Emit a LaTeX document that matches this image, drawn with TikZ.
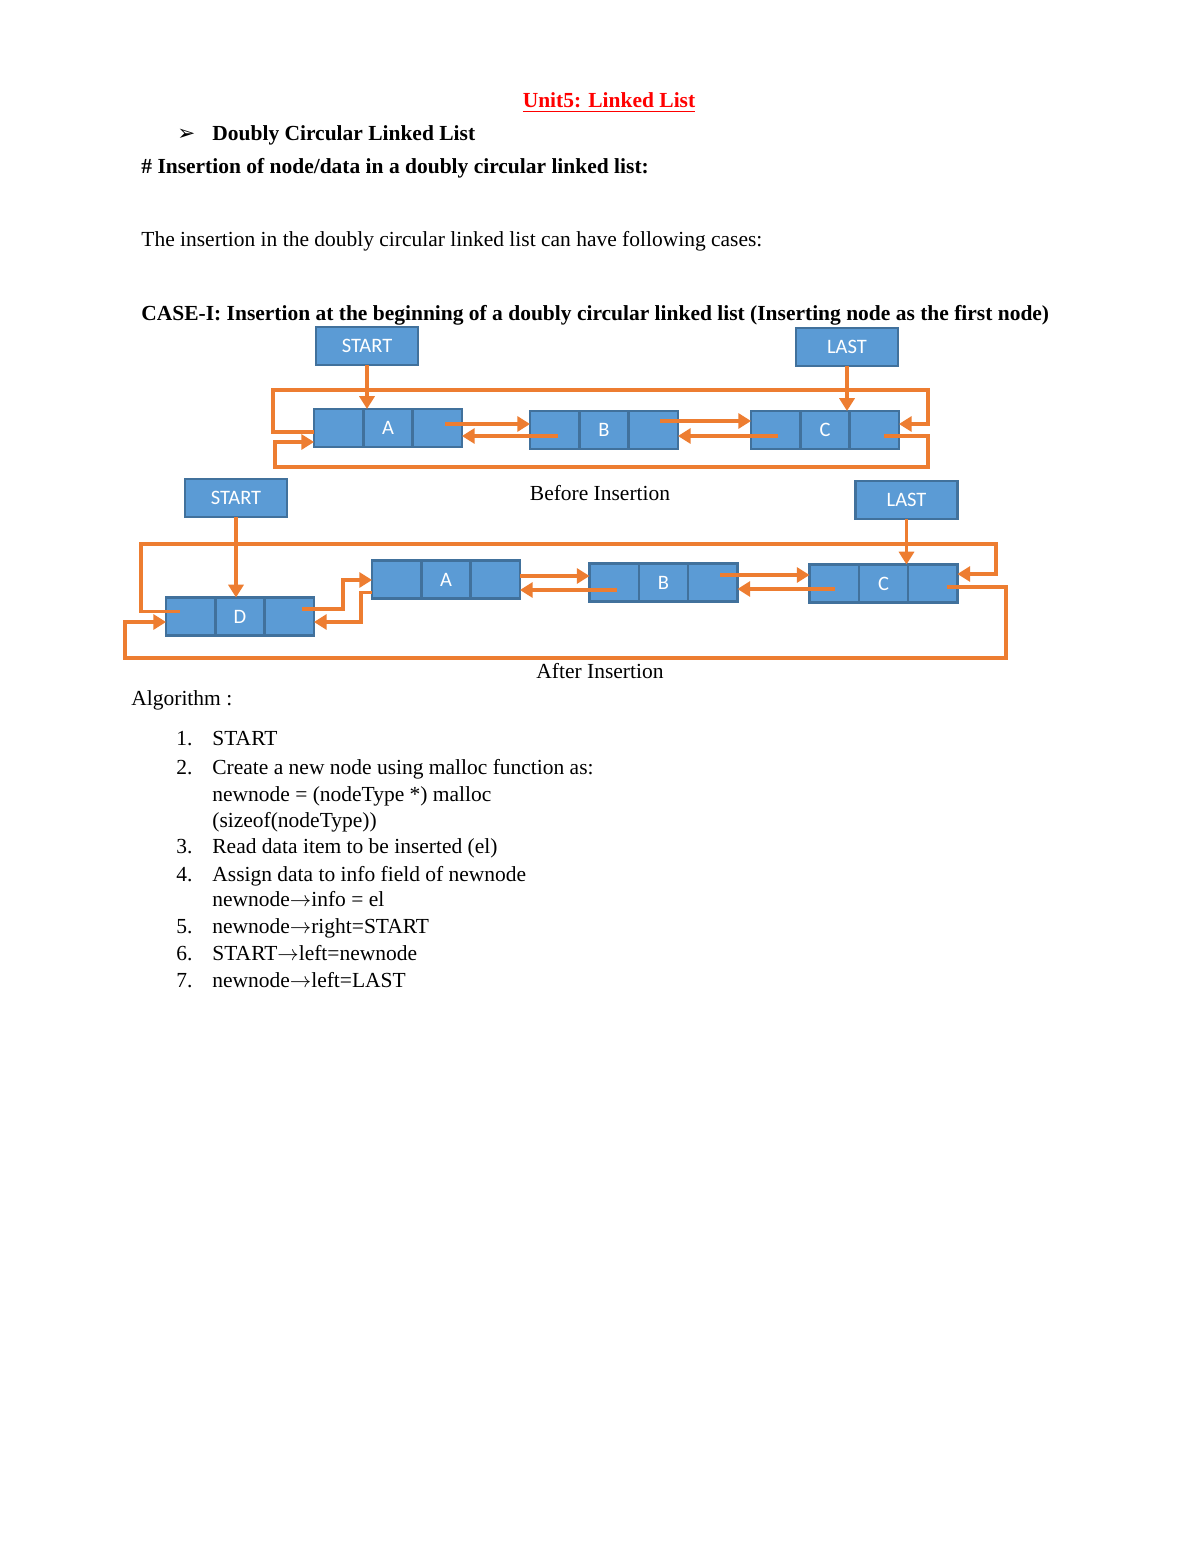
\documentclass[tikz,border=0pt]{standalone}
\usepackage{fontspec}
\usepackage{tikz}
\usetikzlibrary{positioning,calc,arrows.meta}
\setmainfont{Liberation Serif}
\newfontfamily\boxfont{Carlito}
\newfontfamily\symfont{DejaVu Sans}
\definecolor{LLFill}{HTML}{5B9BD5}
\definecolor{LLEdge}{HTML}{41719C}
\definecolor{LLOrange}{HTML}{ED7D31}
\definecolor{LLRed}{HTML}{FF0000}

\begin{document}
\begin{tikzpicture}[x=0.18mm,y=-0.18mm,
  cell/.style={draw=LLEdge,fill=LLFill,line width=1.3pt,outer sep=0pt,inner sep=0pt,
    minimum width=8.87mm,minimum height=6.84mm,text=white,font=\boxfont\fontsize{10.5}{12}\selectfont},
  ptrbox/.style={cell,minimum width=18.36mm},
  ptrline/.style={draw=LLOrange,line width=1.9pt,-{Triangle[length=2.3mm,width=2.7mm]}},
  txt/.style={anchor=base west,inner sep=0pt,font=\fontsize{11}{13}\selectfont},
  caption/.style={anchor=base,inner sep=0pt,font=\fontsize{11}{13}\selectfont}]
\fill[white] (0,0) rectangle (1200,1553);
\path[use as bounding box] (0,0) rectangle (1200,1553);

\node[caption,text=LLRed,font=\bfseries\fontsize{11}{13}\selectfont] (title) at (609,108) {\underline{Unit5: Linked List}};
\node[txt,font=\symfont\bfseries\fontsize{11}{13}\selectfont] (bullet) at (177,141) {➢};
\node[txt,font=\bfseries\fontsize{11}{13}\selectfont] (topic) at (212,141) {Doubly Circular Linked List};
\node[txt,font=\bfseries\fontsize{11}{13}\selectfont] (heading) at (141,174) {\# Insertion of node/data in a doubly circular linked list:};
\node[txt] (intro) at (141,247) {The insertion in the doubly circular linked list can have following cases:};
\node[txt,font=\bfseries\fontsize{11}{13}\selectfont] (case) at (141,321) {CASE-I: Insertion at the beginning of a doubly circular linked list (Inserting node as the first node)};

% before insertion
\node[ptrbox] (startT) at (367,346) {START};
\node[ptrbox] (lastT) at (847,347) {LAST};
\node[cell] (Ad) at (388,428) {A};
\node[cell,left=0pt of Ad] (Ap) {};
\node[cell,right=0pt of Ad] (An) {};
\node[cell] (Bd) at (604,430) {B};
\node[cell,left=0pt of Bd] (Bp) {};
\node[cell,right=0pt of Bd] (Bn) {};
\node[cell] (Cd) at (825,430) {C};
\node[cell,left=0pt of Cd] (Cp) {};
\node[cell,right=0pt of Cd] (Cn) {};

\draw[ptrline] (startT.south) -- (startT.south |- Ad.north);
\draw[ptrline] (lastT.south) -- (lastT.south |- Cd.north);
\draw[ptrline] ($(An.center)+(8,-4)$) coordinate (t1) -- (t1 -| Bp.west);
\draw[ptrline] ($(Bp.center)+(3,6)$) coordinate (t2) -- (t2 -| An.east);
\draw[ptrline] ($(Bn.center)+(7,-9)$) coordinate (t3) -- (t3 -| Cp.west);
\draw[ptrline] ($(Cp.center)+(2,6)$) coordinate (t4) -- (t4 -| Bn.east);
\draw[ptrline] ($(Cn.center)+(10,6)$) -- ++(44,0) -- ++(0,31) -- ++(-653,0) -- ++(0,-25) coordinate (t5) -- (t5 -| Ap.west);
\draw[ptrline] ($(Ap.west)+(0,4)$) -- ++(-41,0) -- ++(0,-42) -- ++(655,0) -- ++(0,34) coordinate (t6) -- (t6 -| Cn.east);
\node[caption] (before) at (600,500) {Before Insertion};

% after insertion
\node[ptrbox] (startB) at (236,498) {START};
\node[ptrbox] (lastB) at (906.5,500) {LAST};
\node[cell] (Dd) at (240,616.5) {D};
\node[cell,left=0pt of Dd] (Dp) {};
\node[cell,right=0pt of Dd] (Dn) {};
\node[cell] (A2d) at (446,579.5) {A};
\node[cell,left=0pt of A2d] (A2p) {};
\node[cell,right=0pt of A2d] (A2n) {};
\node[cell] (B2d) at (663.5,582.5) {B};
\node[cell,left=0pt of B2d] (B2p) {};
\node[cell,right=0pt of B2d] (B2n) {};
\node[cell] (C2d) at (883.5,583.5) {C};
\node[cell,left=0pt of C2d] (C2p) {};
\node[cell,right=0pt of C2d] (C2n) {};

\draw[ptrline] (startB.south) -- (startB.south |- Dd.north);
\draw[ptrline] (lastB.south) -- (lastB.south |- C2d.north);
\draw[ptrline] ($(Dn.center)+(13,-7.5)$) -- ++(41,0) -- ++(0,-29) coordinate (u1) -- (u1 -| A2p.west);
\draw[ptrline] ($(A2p.west)+(0,13)$) -- ++(-11,0) -- ++(0,29.5) coordinate (u2) -- (u2 -| Dn.east);
\draw[ptrline] ($(A2n.east)+(0,-3.5)$) coordinate (u3) -- (u3 -| B2p.west);
\draw[ptrline] ($(B2p.center)+(3,7.5)$) coordinate (u4) -- (u4 -| A2n.east);
\draw[ptrline] ($(B2n.center)+(7.5,-7.5)$) coordinate (u5) -- (u5 -| C2p.west);
\draw[ptrline] ($(C2p.center)+(0.5,5.5)$) coordinate (u6) -- (u6 -| B2n.east);
\draw[ptrline] ($(C2n.center)+(14,3.5)$) -- ++(59,0) -- ++(0,71) -- ++(-881,0) -- ++(0,-36) coordinate (u7) -- (u7 -| Dp.west);
\draw[ptrline] ($(Dp.center)+(-11,-5)$) -- ++(-39,0) -- ++(0,-67.5) -- ++(855,0) -- ++(0,30) coordinate (u8) -- (u8 -| C2n.east);
\node[caption] (after) at (600,678) {After Insertion};

% algorithm
\node[txt] (algo) at (131,705) {Algorithm :};
\node[txt] (n1) at (176,745) {1.};
\node[txt] (s1) at (212,745) {START};
\node[txt] (n2) at (176,774) {2.};
\node[txt] (s2) at (212,774) {Create a new node using malloc function as:};
\node[txt] (s2b) at (212,801) {newnode = (nodeType *) malloc};
\node[txt] (s2c) at (212,827) {(sizeof(nodeType))};
\node[txt] (n3) at (176,853) {3.};
\node[txt] (s3) at (212,853) {Read data item to be inserted (el)};
\node[txt] (n4) at (176,881) {4.};
\node[txt] (s4) at (212,881) {Assign data to info field of newnode};
\node[txt] (s4b) at (212,906) {newnode$\rightarrow$info = el};
\node[txt] (n5) at (176,933) {5.};
\node[txt] (s5) at (212,933) {newnode$\rightarrow$right=START};
\node[txt] (n6) at (176,960) {6.};
\node[txt] (s6) at (212,960) {START$\rightarrow$left=newnode};
\node[txt] (n7) at (176,987) {7.};
\node[txt] (s7) at (212,987) {newnode$\rightarrow$left=LAST};
\end{tikzpicture}
\end{document}
